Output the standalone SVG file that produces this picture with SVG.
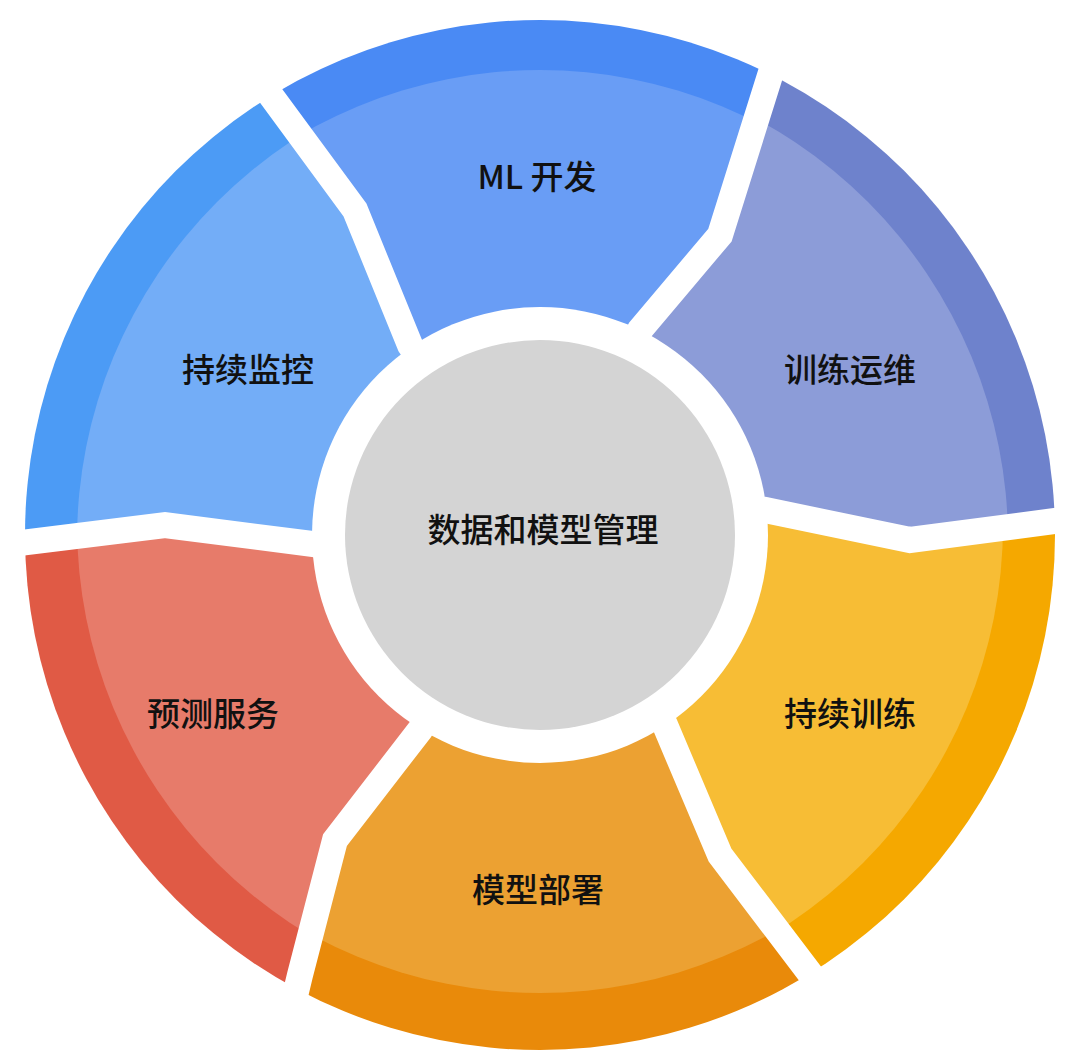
<svg xmlns="http://www.w3.org/2000/svg" width="1080" height="1063" viewBox="0 0 1080 1063">
<style>
text{font-family:"Noto Sans CJK SC","Noto Sans",sans-serif;font-size:33px;font-weight:500;fill:#111;text-anchor:middle;dominant-baseline:central}
.gap{fill:none;stroke:#fff;stroke-width:26;stroke-linejoin:miter}
</style>
<defs>
<clipPath id="cML"><polygon points="540,535 410,345 355,210 230,40 180,-30 820,-30 800,-20 720,235 640,330"/></clipPath>
<clipPath id="cOps"><polygon points="540,535 640,330 720,235 800,-20 1100,-20 1100,515 910,540 765,510"/></clipPath>
<clipPath id="cCT"><polygon points="540,535 765,510 910,540 1100,515 1100,1100 900,1100 830,1000 720,855 665,725"/></clipPath>
<clipPath id="cDep"><polygon points="540,535 665,725 720,855 830,1000 900,1100 270,1100 300,975 335,840 420,730"/></clipPath>
<clipPath id="cPred"><polygon points="540,535 420,730 335,840 300,975 270,1100 -20,1100 -20,548 165,525 320,545"/></clipPath>
<clipPath id="cMon"><polygon points="540,535 320,545 165,525 -20,548 -20,-30 180,-30 230,40 355,210 410,345"/></clipPath>
</defs>
<rect width="1080" height="1063" fill="#fff"/>
<g id="ml-dev" clip-path="url(#cML)"><circle cx="540" cy="535" r="515" fill="#4a8af4"/><circle cx="540" cy="545" r="475" fill="#699df5"/><text x="537" y="175">ML 开发</text></g>
<g id="train-ops" clip-path="url(#cOps)"><circle cx="540" cy="535" r="515" fill="#6e82cc"/><circle cx="530" cy="540" r="478" fill="#8c9cd8"/><text x="850" y="368">训练运维</text></g>
<g id="cont-train" clip-path="url(#cCT)"><circle cx="540" cy="535" r="515" fill="#f5a800"/><circle cx="525" cy="525" r="478" fill="#f7bd35"/><text x="850" y="712">持续训练</text></g>
<g id="deploy" clip-path="url(#cDep)"><circle cx="540" cy="535" r="515" fill="#e98a0a"/><circle cx="540" cy="515" r="478" fill="#eca132"/><text x="538" y="888">模型部署</text></g>
<g id="predict" clip-path="url(#cPred)"><circle cx="540" cy="535" r="515" fill="#e05a45"/><circle cx="555" cy="525" r="478" fill="#e77b6a"/><text x="213" y="712">预测服务</text></g>
<g id="monitor" clip-path="url(#cMon)"><circle cx="540" cy="535" r="515" fill="#4c9bf5"/><circle cx="555" cy="540" r="478" fill="#73adf7"/><text x="248" y="368">持续监控</text></g>
<g id="connectors">
<polyline class="gap" points="540,535 410,345 355,210 230,40 180,-30"/>
<polyline class="gap" points="540,535 640,330 720,235 800,-20"/>
<polyline class="gap" points="540,535 765,510 910,540 1100,515"/>
<polyline class="gap" points="540,535 665,725 720,855 830,1000 900,1100"/>
<polyline class="gap" points="540,535 420,730 335,840 300,975 270,1100"/>
<polyline class="gap" points="540,535 320,545 165,525 -20,548"/>
</g>
<g id="center"><circle cx="540" cy="535" r="228" fill="#fff"/><circle cx="540" cy="535" r="195" fill="#d4d4d4"/><text x="543" y="528">数据和模型管理</text></g>
</svg>
